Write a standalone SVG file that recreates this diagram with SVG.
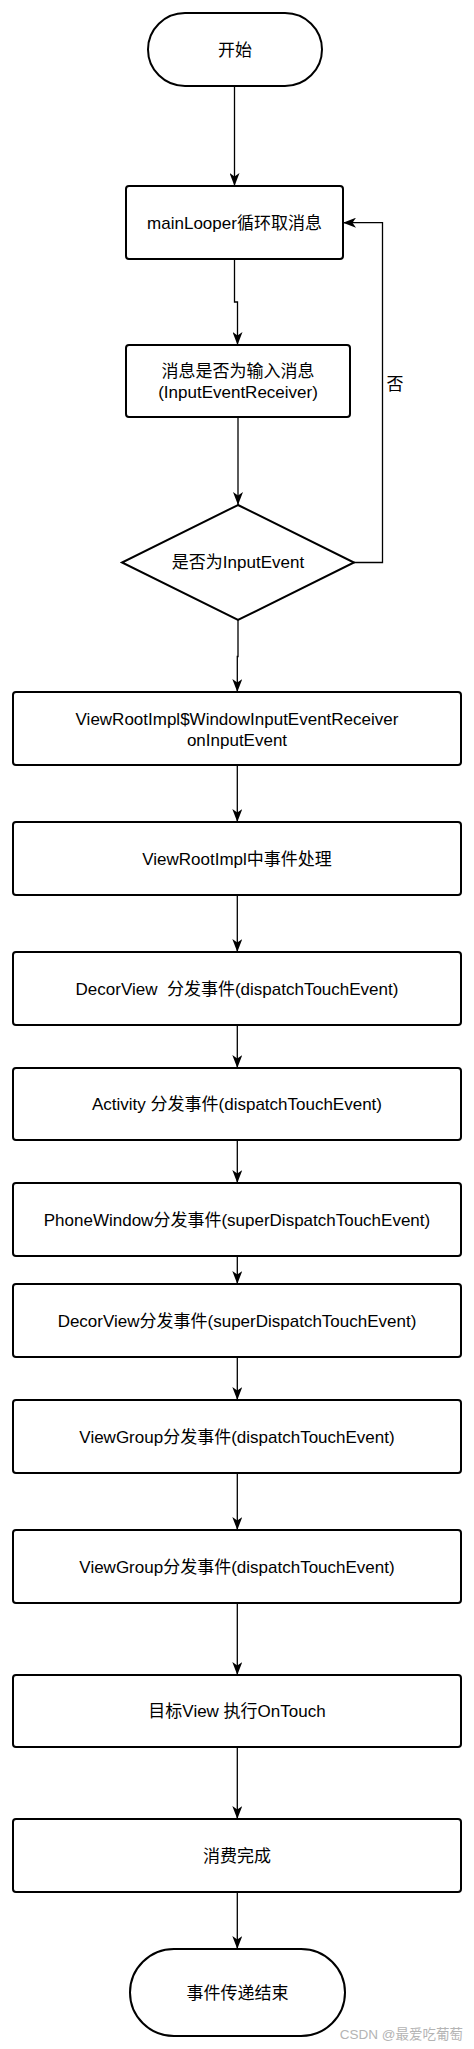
<svg xmlns="http://www.w3.org/2000/svg" width="474" height="2049" viewBox="0 0 474 2049">
<style>
.box{fill:#fff;stroke:#000;stroke-width:2}
.t{font-family:"Liberation Sans","Noto Sans CJK SC",sans-serif;font-size:17px;fill:#000;text-anchor:middle;dominant-baseline:central}
.edge{fill:none;stroke:#000;stroke-width:1.3}
.wm{font-family:"Liberation Sans","Noto Sans CJK SC",sans-serif;font-size:13.5px;fill:#b4b4b4;text-anchor:end;dominant-baseline:central}
</style>
<defs>
<marker id="arr" viewBox="0 0 13 10" refX="13" refY="5" markerWidth="13" markerHeight="10" markerUnits="userSpaceOnUse" orient="auto">
<path d="M0,0 L13,5 L0,10 L3.5,5 Z" fill="#000"/>
</marker>
</defs>
<rect width="474" height="2049" fill="#fff"/>
<g id="connectors">
<path class="edge" d="M234.5,86 V186" marker-end="url(#arr)"/>
<path class="edge" d="M234.5,259 V302 H237.5 V345" marker-end="url(#arr)"/>
<path class="edge" d="M238,417 V505" marker-end="url(#arr)"/>
<path class="edge" d="M354,562.5 H382.5 V222.7 H343" marker-end="url(#arr)"/>
<path class="edge" d="M238,620 V656.5 H237.3 V692" marker-end="url(#arr)"/>
<path class="edge" d="M237.3,765 V822" marker-end="url(#arr)"/>
<path class="edge" d="M237.3,895 V952" marker-end="url(#arr)"/>
<path class="edge" d="M237.3,1025 V1068" marker-end="url(#arr)"/>
<path class="edge" d="M237.3,1140 V1183" marker-end="url(#arr)"/>
<path class="edge" d="M237.3,1256 V1284" marker-end="url(#arr)"/>
<path class="edge" d="M237.3,1357 V1400" marker-end="url(#arr)"/>
<path class="edge" d="M237.3,1473 V1530" marker-end="url(#arr)"/>
<path class="edge" d="M237.3,1603 V1675" marker-end="url(#arr)"/>
<path class="edge" d="M237.3,1747 V1819" marker-end="url(#arr)"/>
<path class="edge" d="M237.3,1892 V1949" marker-end="url(#arr)"/>
<text class="t" x="395" y="384">否</text>
</g>
<g id="start">
<rect class="box" x="148" y="13" width="174" height="73" rx="37" ry="36.5"/>
<text class="t" x="235" y="50">开始</text>
</g>
<g id="mainLooper">
<rect class="box" x="126" y="186" width="217" height="73" rx="3"/>
<text class="t" x="234.5" y="223">mainLooper循环取消息</text>
</g>
<g id="isInputMsg">
<rect class="box" x="126" y="345" width="224" height="72" rx="3"/>
<text class="t" x="238" y="371">消息是否为输入消息</text>
<text class="t" x="238" y="392">(InputEventReceiver)</text>
</g>
<g id="isInputEvent">
<path class="box" d="M238,505 L354,562.5 L238,620 L122,562.5 Z"/>
<text class="t" x="238" y="562.5">是否为InputEvent</text>
</g>
<g id="receiver">
<rect class="box" x="13" y="692" width="448" height="73" rx="3"/>
<text class="t" x="237" y="719">ViewRootImpl$WindowInputEventReceiver</text>
<text class="t" x="237" y="740">onInputEvent</text>
</g>
<g id="viewRootImpl">
<rect class="box" x="13" y="822" width="448" height="73" rx="3"/>
<text class="t" x="237" y="859">ViewRootImpl中事件处理</text>
</g>
<g id="decorView1">
<rect class="box" x="13" y="952" width="448" height="73" rx="3"/>
<text class="t" x="237" y="989" xml:space="preserve">DecorView  分发事件(dispatchTouchEvent)</text>
</g>
<g id="activity">
<rect class="box" x="13" y="1068" width="448" height="72" rx="3"/>
<text class="t" x="237" y="1104">Activity 分发事件(dispatchTouchEvent)</text>
</g>
<g id="phoneWindow">
<rect class="box" x="13" y="1183" width="448" height="73" rx="3"/>
<text class="t" x="237" y="1220">PhoneWindow分发事件(superDispatchTouchEvent)</text>
</g>
<g id="decorView2">
<rect class="box" x="13" y="1284" width="448" height="73" rx="3"/>
<text class="t" x="237" y="1321">DecorView分发事件(superDispatchTouchEvent)</text>
</g>
<g id="viewGroup1">
<rect class="box" x="13" y="1400" width="448" height="73" rx="3"/>
<text class="t" x="237" y="1437">ViewGroup分发事件(dispatchTouchEvent)</text>
</g>
<g id="viewGroup2">
<rect class="box" x="13" y="1530" width="448" height="73" rx="3"/>
<text class="t" x="237" y="1567">ViewGroup分发事件(dispatchTouchEvent)</text>
</g>
<g id="targetView">
<rect class="box" x="13" y="1675" width="448" height="72" rx="3"/>
<text class="t" x="237" y="1711">目标View 执行OnTouch</text>
</g>
<g id="consumed">
<rect class="box" x="13" y="1819" width="448" height="73" rx="3"/>
<text class="t" x="237" y="1856">消费完成</text>
</g>
<g id="end">
<rect class="box" x="130" y="1949" width="215" height="87" rx="44" ry="43.5"/>
<text class="t" x="237.5" y="1993">事件传递结束</text>
</g>
<text class="wm" x="463" y="2034">CSDN @最爱吃葡萄</text>
</svg>
